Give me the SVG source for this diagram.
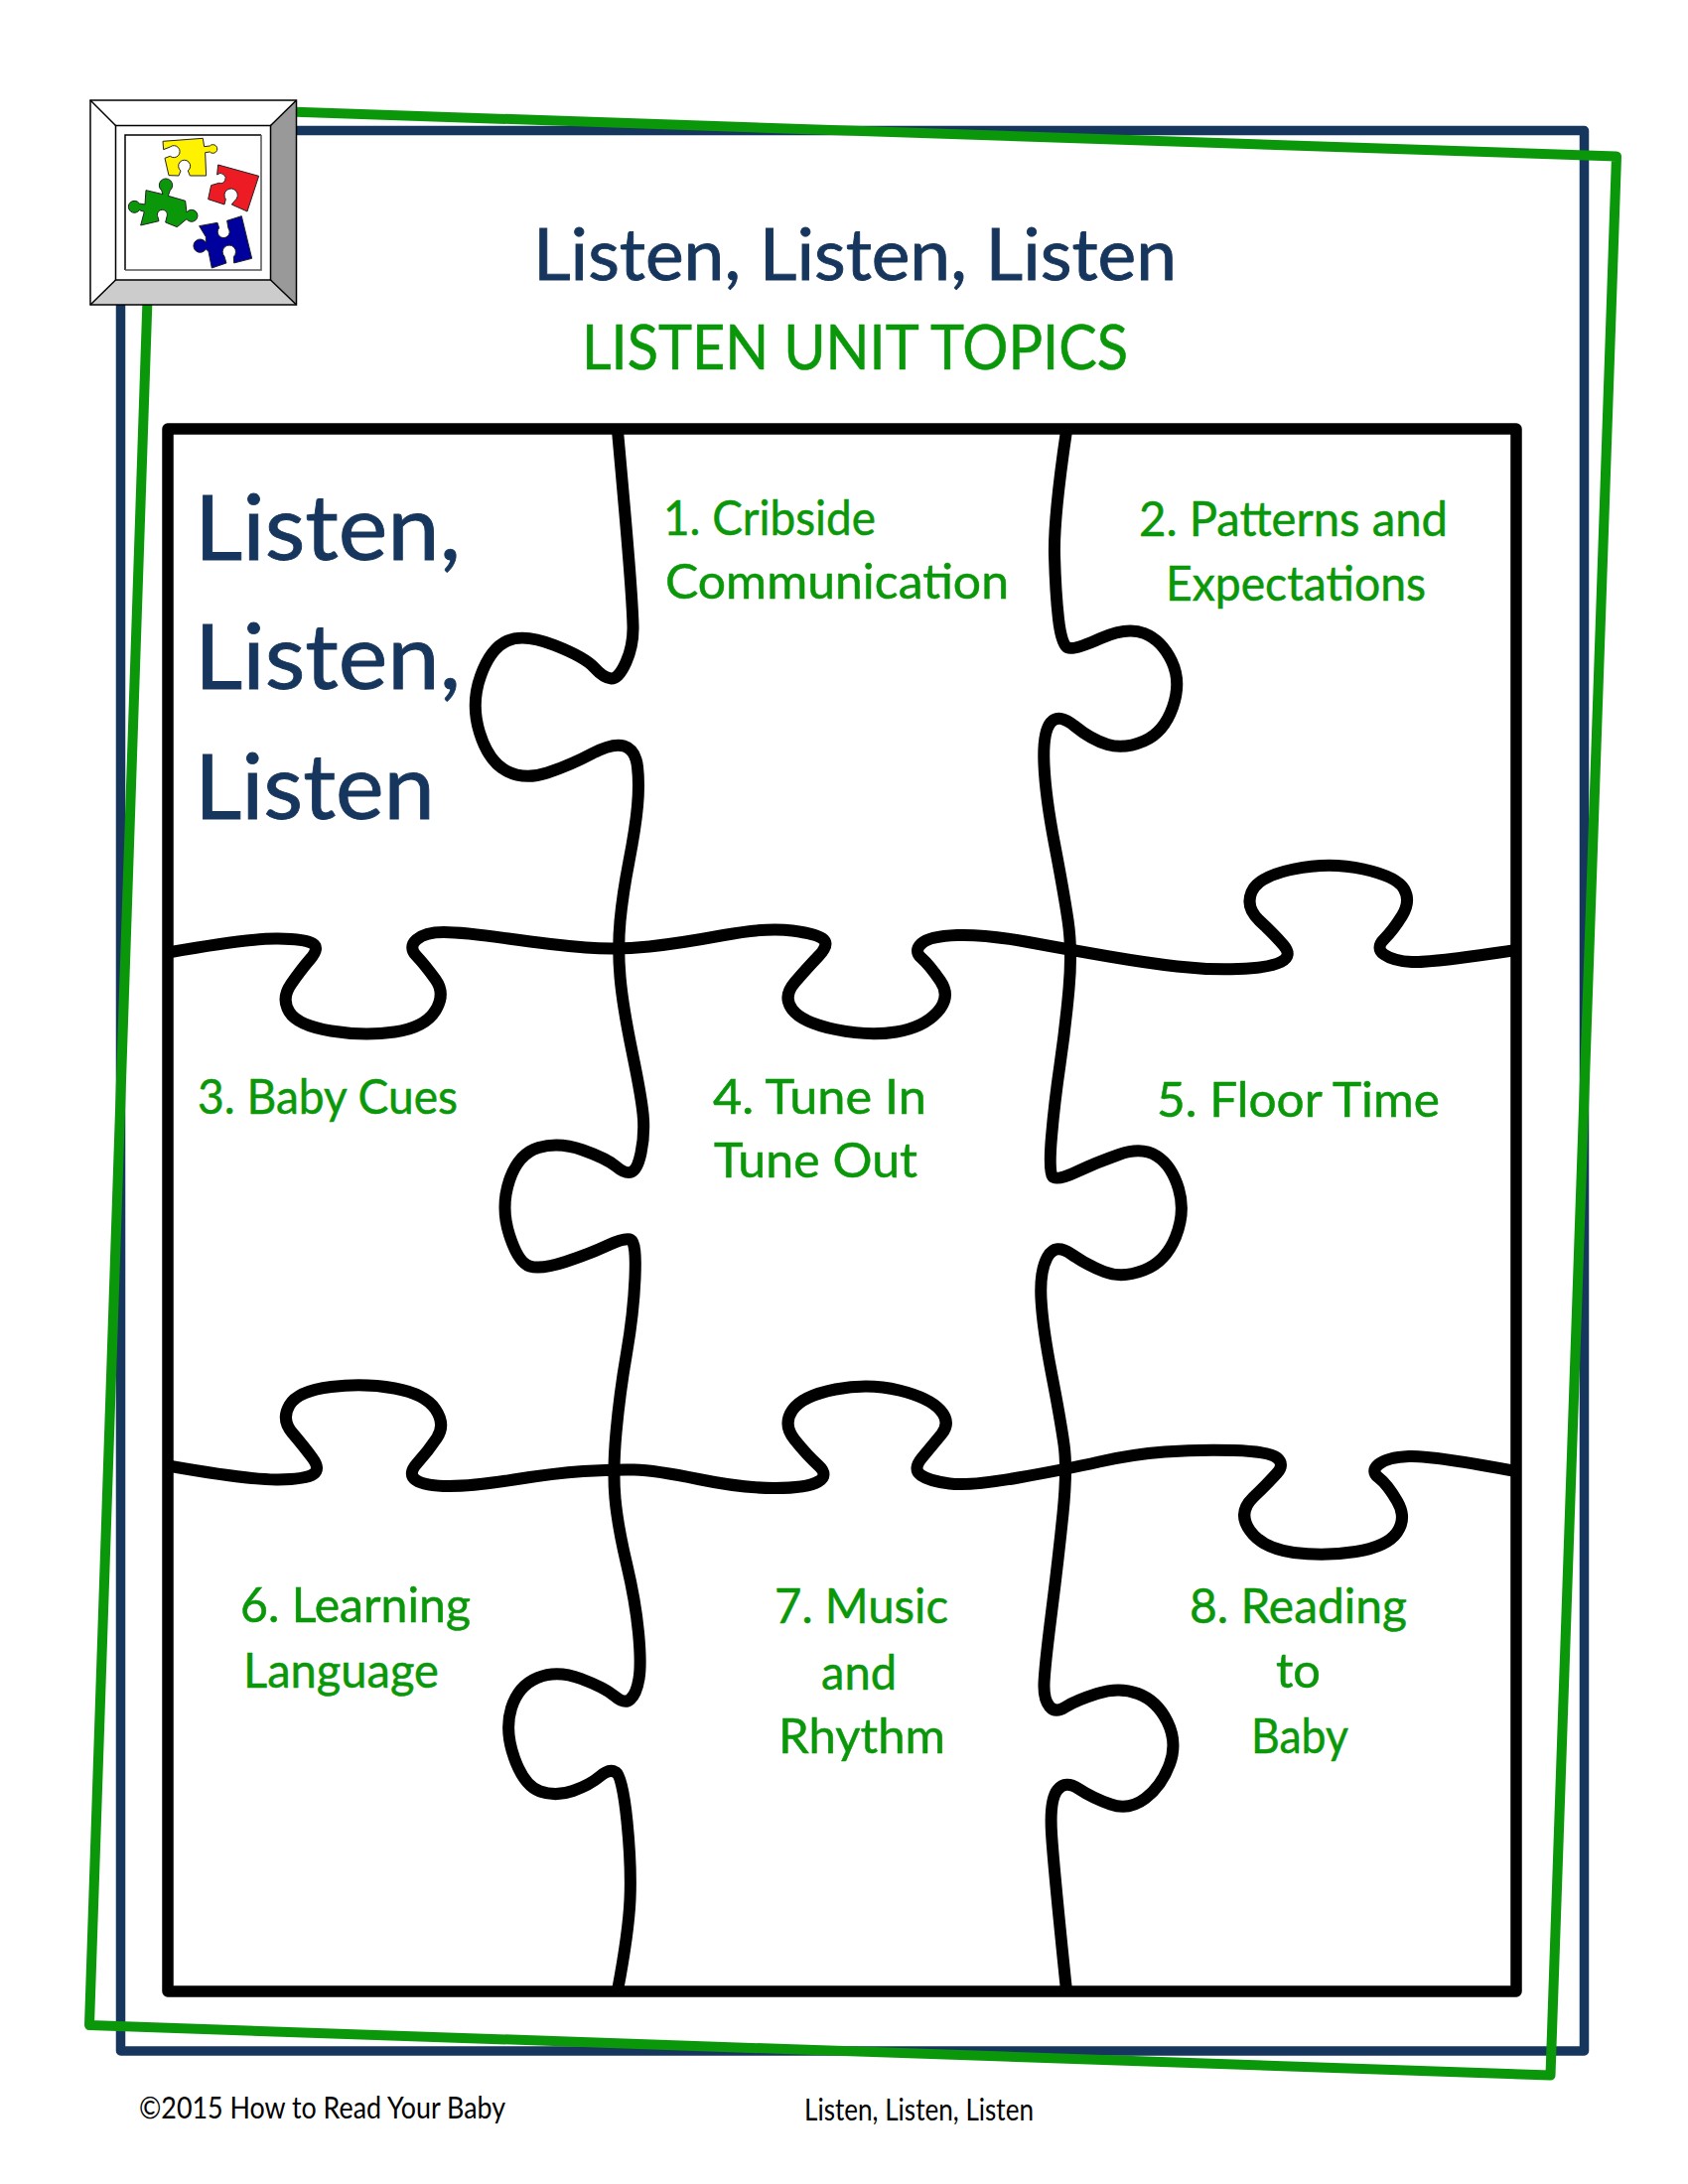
<svg xmlns="http://www.w3.org/2000/svg" width="1700" height="2200" viewBox="0 0 1700 2200">
  <style>
    text { font-family: "Lato", "Noto Sans", sans-serif; }
    .label { font-size: 48px; fill: #0a980a; stroke: #0a980a; stroke-width: .5; }
    .navy { fill: #17365d; stroke: #17365d; stroke-width: .9; }
    .green { fill: #0a980a; stroke: #0a980a; stroke-width: .6; }
    .foot { font-size: 30px; fill: #000; }
    .seam { fill: none; stroke: #000; stroke-width: 12; stroke-linecap: butt; stroke-linejoin: round; }
    .piece { stroke: #222; stroke-width: 3; stroke-linejoin: round; }
  </style>
  <rect width="1700" height="2200" fill="#fff"/>

  <g id="page-frames" fill="none" stroke-linejoin="round">
    <rect x="121.500" y="131.500" width="1474" height="1934.500" stroke="#17365d" stroke-width="9.500"/>
    <path d="M155 108 L1628 157.500 L1561.500 2090.500 L90 2040 Z" stroke="#0a980a" stroke-width="10"/>
  </g>

  <g id="logo">
    <rect x="91" y="101" width="207.500" height="206" fill="#fff"/>
    <path d="M298.500 101 L272.500 127 L272.500 282 L298.500 307 Z" fill="#999"/>
    <path d="M91 307 L117 282 L272.500 282 L298.500 307 Z" fill="#ccc"/>
    <g fill="none" stroke="#000" stroke-width="1.500">
      <rect x="91" y="101" width="207.500" height="206"/>
      <rect x="116.500" y="126.500" width="156" height="155.500"/>
      <path d="M91 101 L116.500 126.500 M298.500 101 L272.500 126.500 M91 307 L116.500 282 M298.500 307 L272.500 282"/>
    </g>
    <path d="M126 272 L126 136 L263 136" fill="none" stroke="#000" stroke-width="1.500"/>
    <path d="M263 136 L263 272 L126 272" fill="none" stroke="#555" stroke-width="1.500"/>
    <g transform="translate(70 80) scale(.3333)">
      <path class="piece" fill="#fff200" d="M282 187 L403 178 L407 203 L424 201 A13 13 0 1 1 424 219 L410 221 L413 291 L364 291 L358 276 A18 18 0 1 0 336 276 L330 291 L300 290 L288 238 L304 232 A18 18 0 1 0 304 204 L284 212 Z"/>
      <path class="piece" fill="#ed1c24" d="M449 258 L572 292 L537 399 L490 378 L500 366 A20 20 0 1 0 472 362 L468 378 L419 362 L428 320 L452 313 A15 15 0 1 0 446 288 Z"/>
      <path class="piece" fill="#0a980a" d="M231 335 L282 347 L278 335 A20 20 0 1 1 304 335 L298 352 L350 367 L354 402 A18 18 0 1 1 354 422 L325 446 L290 432 L294 415 A15 15 0 1 0 267 416 L270 428 L215 441 L226 400 L211 395 A18 18 0 1 1 211 375 L228 378 Z"/>
      <path class="piece" fill="#00009c" d="M392 443 L447 433 L452 449 A18 18 0 1 0 480 450 L476 427 L520 413 L551 541 L497 555 L496 536 A20 20 0 1 0 468 535 L474 555 L430 570 L420 520 L412 513 A20 20 0 1 1 412 493 L412 476 Z"/>
    </g>
  </g>

  <g id="heading">
    <text class="navy" x="537" y="282" font-size="72" textLength="648" lengthAdjust="spacingAndGlyphs">Listen, Listen, Listen</text>
    <text class="green" x="586" y="372" font-size="62" textLength="550" lengthAdjust="spacingAndGlyphs">LISTEN UNIT TOPICS</text>
  </g>

  <g id="board">
    <rect x="169" y="432" width="1358" height="1574" fill="none" stroke="#000" stroke-width="11.500" stroke-linejoin="round"/>
  </g>

  <g id="seams">
    <path class="seam" d="M622 434 Q630 522 633.5 566.5 Q637 611 637.5 630.5 Q638 650 630.5 667 Q623 684 615.5 683.5 Q608 683 598.5 672.5 Q589 662 558.5 650 Q528 638 511 645.5 Q494 653 484 681 Q474 709 483 738 Q492 767 510 776.5 Q528 786 551 778.5 Q574 771 595.5 759.5 Q617 748 628.5 751.5 Q640 755 642 772.5 Q644 790 642 812 Q640 834 633.5 867.5 Q627 901 624.5 928 Q622 955 624.5 984 Q627 1013 637 1061.5 Q647 1110 648 1127.5 Q649 1145 645.5 1161.5 Q642 1178 636 1180.5 Q630 1183 620.5 1175 Q611 1167 587 1158.5 Q563 1150 542.5 1156 Q522 1162 513 1189 Q504 1216 513 1244 Q522 1272 533.5 1275.5 Q545 1279 569.5 1271 Q594 1263 612 1254.5 Q630 1246 635.5 1249 Q641 1252 639.5 1287.5 Q638 1323 631 1363.5 Q624 1404 620.5 1443 Q617 1482 619.5 1509.5 Q622 1537 631 1575 Q640 1613 643 1644.5 Q646 1676 643.5 1691 Q641 1706 635 1711.5 Q629 1717 619 1708.5 Q609 1700 585 1691 Q561 1682 541.5 1690 Q522 1698 515 1720.5 Q508 1743 518 1771 Q528 1799 544 1804.5 Q560 1810 577 1804 Q594 1798 604 1789.5 Q614 1781 620.5 1785.5 Q627 1790 631.5 1835 Q636 1880 634.5 1913.5 Q633 1947 622 2005"/>
    <path class="seam" d="M1074 434 Q1061 522 1062 559.5 Q1063 597 1066 623.5 Q1069 650 1075.5 652.5 Q1082 655 1108.5 643 Q1135 631 1152.5 638 Q1170 645 1180 666 Q1190 687 1181 712.5 Q1172 738 1152 746.5 Q1132 755 1115.5 750 Q1099 745 1082.5 731.5 Q1066 718 1058 728 Q1050 738 1051.5 770.5 Q1053 803 1062 850 Q1071 897 1075.5 927 Q1080 957 1076.5 996 Q1073 1035 1067.5 1072.5 Q1062 1110 1059 1145 Q1056 1180 1060 1185 Q1064 1190 1084 1180.5 Q1104 1171 1127 1163 Q1150 1155 1165 1164.5 Q1180 1174 1187 1197.5 Q1194 1221 1184 1246 Q1174 1271 1152 1279.5 Q1130 1288 1112 1281 Q1094 1274 1078.5 1263 Q1063 1252 1055 1266 Q1047 1280 1048.5 1308.5 Q1050 1337 1059 1383.5 Q1068 1430 1071.5 1455 Q1075 1480 1070.5 1524.5 Q1066 1569 1059 1624.5 Q1052 1680 1051.5 1696 Q1051 1712 1057 1719 Q1063 1726 1073 1719.5 Q1083 1713 1105 1706 Q1127 1699 1146 1706 Q1165 1713 1175.5 1734 Q1186 1755 1178 1777 Q1170 1799 1153.5 1811.5 Q1137 1824 1118.5 1817.5 Q1100 1811 1086.5 1802 Q1073 1793 1065 1803 Q1057 1813 1059 1846.5 Q1061 1880 1074 2005"/>
    <path class="seam" d="M172 959 Q252 945 280 945.5 Q308 946 315 950.5 Q322 955 312.5 966 Q303 977 293 991.5 Q283 1006 291.5 1019.5 Q300 1033 333.5 1038.5 Q367 1044 397.5 1039.5 Q428 1035 438.5 1018 Q449 1001 438.5 986.5 Q428 972 419.5 963 Q411 954 419.5 946.5 Q428 939 447 939 Q466 939 512 945.5 Q558 952 590 954.5 Q622 957 654 953.5 Q686 950 729 942 Q772 934 798 937.5 Q824 941 829.5 946.5 Q835 952 824 963.5 Q813 975 800.5 989.5 Q788 1004 798 1017 Q808 1030 841.5 1037 Q875 1044 902.5 1039.5 Q930 1035 944 1019.5 Q958 1004 947 988 Q936 972 928 965 Q920 958 928 950.5 Q936 943 964 942 Q992 941 1035.5 949 Q1079 957 1117 963.5 Q1155 970 1185.5 973.5 Q1216 977 1247 976 Q1278 975 1290 969 Q1302 963 1292.5 952 Q1283 941 1268.5 927.5 Q1254 914 1260.5 898.5 Q1267 883 1303 875.5 Q1339 868 1373 875.5 Q1407 883 1414 895.5 Q1421 908 1412 922.5 Q1403 937 1394 946 Q1385 955 1394 961.5 Q1403 968 1422 969 Q1441 970 1527 957"/>
    <path class="seam" d="M172 1477 Q252 1491 280 1490.5 Q308 1490 315.5 1485 Q323 1480 314.5 1468.5 Q306 1457 294.5 1443.5 Q283 1430 291.5 1415.5 Q300 1401 333.5 1397 Q367 1393 397.5 1398.5 Q428 1404 438.5 1419.5 Q449 1435 440 1448.5 Q431 1462 420.5 1473.5 Q410 1485 419 1491 Q428 1497 452.5 1497 Q477 1497 517.5 1490.5 Q558 1484 587.5 1482 Q617 1480 638.5 1480.5 Q660 1481 703.5 1490 Q747 1499 780 1499 Q813 1499 824 1492.5 Q835 1486 824 1476 Q813 1466 800.5 1450.5 Q788 1435 798 1420.5 Q808 1406 841.5 1399.5 Q875 1393 905.5 1400.5 Q936 1408 947 1420.5 Q958 1433 948 1445 Q938 1457 928.5 1468.5 Q919 1480 927.5 1486 Q936 1492 956.5 1494.5 Q977 1497 1025.5 1488.5 Q1074 1480 1107 1472.5 Q1140 1465 1173 1462.5 Q1206 1460 1242 1461 Q1278 1462 1286 1468.5 Q1294 1475 1286 1484 Q1278 1493 1262 1508.5 Q1246 1524 1259 1542 Q1272 1560 1303 1564 Q1334 1568 1365.5 1563 Q1397 1558 1407 1543.5 Q1417 1529 1407 1512 Q1397 1495 1388.5 1488.5 Q1380 1482 1388.5 1475 Q1397 1468 1419 1467 Q1441 1466 1527 1482"/>
  </g>

  <g id="piece-title">
    <text class="navy" x="196" y="564" font-size="92" textLength="268" lengthAdjust="spacingAndGlyphs">Listen,</text>
    <text class="navy" x="196" y="694" font-size="92" textLength="268" lengthAdjust="spacingAndGlyphs">Listen,</text>
    <text class="navy" x="196" y="825" font-size="92" textLength="242" lengthAdjust="spacingAndGlyphs">Listen</text>
  </g>
  <g id="piece-1">
    <text class="label" x="668" y="539" textLength="214" lengthAdjust="spacingAndGlyphs">1. Cribside</text>
    <text class="label" x="670" y="603" textLength="346" lengthAdjust="spacingAndGlyphs">Communication</text>
  </g>
  <g id="piece-2">
    <text class="label" x="1147" y="540" textLength="311" lengthAdjust="spacingAndGlyphs">2. Patterns and</text>
    <text class="label" x="1174" y="605" textLength="262" lengthAdjust="spacingAndGlyphs">Expectations</text>
  </g>
  <g id="piece-3">
    <text class="label" x="199" y="1122" textLength="262" lengthAdjust="spacingAndGlyphs">3. Baby Cues</text>
  </g>
  <g id="piece-4">
    <text class="label" x="718" y="1122" textLength="215" lengthAdjust="spacingAndGlyphs">4. Tune In</text>
    <text class="label" x="719" y="1186" textLength="205" lengthAdjust="spacingAndGlyphs">Tune Out</text>
  </g>
  <g id="piece-5">
    <text class="label" x="1165" y="1125" textLength="285" lengthAdjust="spacingAndGlyphs">5. Floor Time</text>
  </g>
  <g id="piece-6">
    <text class="label" x="242" y="1634" textLength="232" lengthAdjust="spacingAndGlyphs">6. Learning</text>
    <text class="label" x="245" y="1700" textLength="197" lengthAdjust="spacingAndGlyphs">Language</text>
  </g>
  <g id="piece-7">
    <text class="label" x="780" y="1635" textLength="175" lengthAdjust="spacingAndGlyphs">7. Music</text>
    <text class="label" x="827" y="1702" textLength="76" lengthAdjust="spacingAndGlyphs">and</text>
    <text class="label" x="784" y="1766" textLength="168" lengthAdjust="spacingAndGlyphs">Rhythm</text>
  </g>
  <g id="piece-8">
    <text class="label" x="1198" y="1635" textLength="219" lengthAdjust="spacingAndGlyphs">8. Reading</text>
    <text class="label" x="1285" y="1700" textLength="45" lengthAdjust="spacingAndGlyphs">to</text>
    <text class="label" x="1260" y="1766" textLength="98" lengthAdjust="spacingAndGlyphs">Baby</text>
  </g>

  <g id="footer">
    <text class="foot" x="140" y="2134" textLength="369" lengthAdjust="spacingAndGlyphs">©2015 How to Read Your Baby</text>
    <text class="foot" x="810" y="2136" textLength="231" lengthAdjust="spacingAndGlyphs">Listen, Listen, Listen</text>
  </g>
</svg>
